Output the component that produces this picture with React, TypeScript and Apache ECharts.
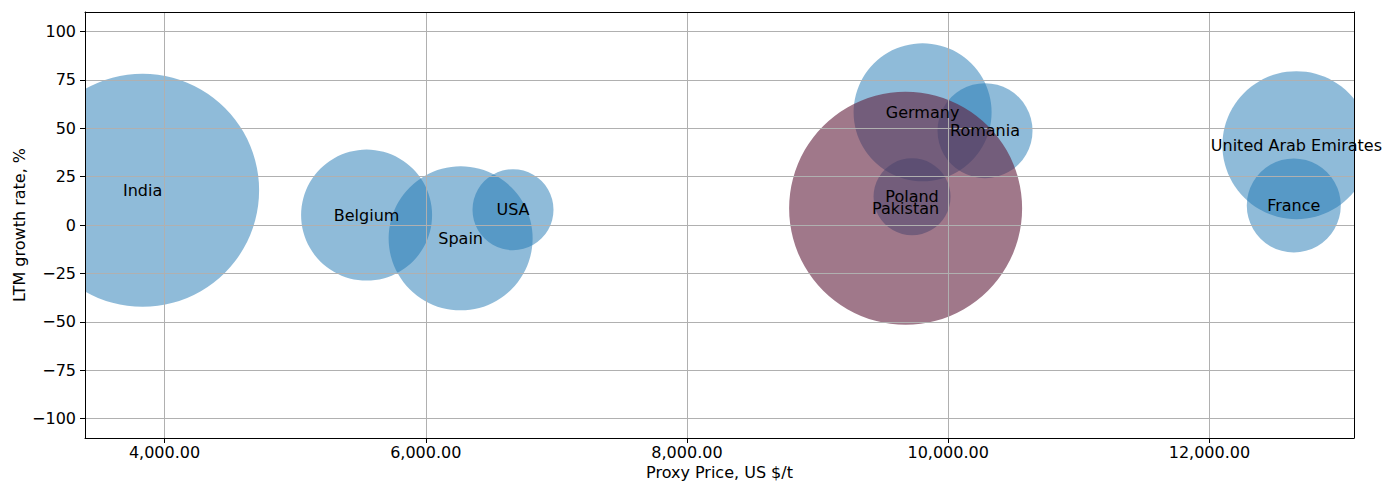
import React, { useEffect, useRef } from "react";
import * as echarts from "echarts";

const countries = ["India", "Belgium", "Spain", "USA", "Germany", "Romania", "Poland", "United Arab Emirates", "France", "Pakistan"];
const proxyPrice = [3832, 5547, 6267, 6668, 9804, 10282, 9723, 12666, 12646, 9674];
const growthRate = [17.9, 5.1, -6.9, 7.9, 58.2, 48.7, 14.6, 41.2, 10.1, 8.6];
const bubbleSize = [233, 131, 144, 81, 138, 95, 77, 148, 94, 233];
const highlighted = "Pakistan";

const xTicks = [4000, 6000, 8000, 10000, 12000];
const yTicks = [-100, -75, -50, -25, 0, 25, 50, 75, 100];

const FONT = "DejaVu Sans";

export default function App() {
  const ref = useRef<HTMLDivElement>(null);
  useEffect(() => {
    document.body.style.margin = "0";
    const chart = echarts.init(ref.current!, undefined, { renderer: "svg" });
    const rows = countries.map((c, i) => ({ name: c, value: [proxyPrice[i], growthRate[i], bubbleSize[i]] }));
    const blueRows = rows.filter((r) => r.name !== highlighted);
    const hiRows = rows.filter((r) => r.name === highlighted);
    const fmtX = (v: number) =>
      v.toLocaleString("en-US", { minimumFractionDigits: 2, maximumFractionDigits: 2 });
    const fmtY = (v: number) => (v < 0 ? "\u2212" + Math.abs(v) : String(v));
    const xMin = 3391;
    const xMax = 13107;
    const bubbles = (color: string) => (params: any, api: any) => {
      const c = api.coord([api.value(0), api.value(1)]);
      return {
        type: "circle",
        shape: { cx: c[0], cy: c[1], r: api.value(2) / 2 },
        style: { fill: color, stroke: "none" },
        silent: true,
      };
    };
    chart.setOption({
      animation: false,
      textStyle: { fontFamily: FONT },
      grid: { left: 85, right: 32, top: 12, bottom: 44, containLabel: false, outerBoundsMode: "none" },
      xAxis: [
        {
          type: "value",
          min: xMin,
          max: xMax,
          z: 3,
          name: "Proxy Price, US $/t",
          nameLocation: "middle",
          nameGap: 25,
          nameTextStyle: { fontFamily: FONT, fontSize: 16, color: "#000" },
          axisLine: { show: true, onZero: false, lineStyle: { color: "#000", width: 1 } },
          axisTick: { show: true, length: 5, inside: false, customValues: xTicks, lineStyle: { color: "#000" } },
          axisLabel: { customValues: xTicks, formatter: fmtX, margin: 6, fontFamily: FONT, fontSize: 16, color: "#000" },
          splitLine: { show: true, lineStyle: { color: "#b0b0b0", width: 1 } },
        },
        {
          type: "value",
          position: "top",
          min: xMin,
          max: xMax,
          z: 3,
          axisLine: { show: true, onZero: false, lineStyle: { color: "#000", width: 1 } },
          axisTick: { show: false },
          axisLabel: { show: false },
          splitLine: { show: false },
        },
      ],
      yAxis: [
        {
          type: "value",
          min: -110,
          max: 110,
          z: 3,
          name: "LTM growth rate, %",
          nameLocation: "middle",
          nameGap: 58,
          nameMoveOverlap: false,
          nameTextStyle: { fontFamily: FONT, fontSize: 16, color: "#000" },
          axisLine: { show: true, onZero: false, lineStyle: { color: "#000", width: 1 } },
          axisTick: { show: true, length: 5, inside: false, customValues: yTicks, lineStyle: { color: "#000" } },
          axisLabel: { customValues: yTicks, formatter: fmtY, margin: 9, fontFamily: FONT, fontSize: 16, color: "#000" },
          splitLine: { show: true, lineStyle: { color: "#b0b0b0", width: 1 } },
        },
        {
          type: "value",
          position: "right",
          min: -110,
          max: 110,
          z: 3,
          axisLine: { show: true, onZero: false, lineStyle: { color: "#000", width: 1 } },
          axisTick: { show: false },
          axisLabel: { show: false },
          splitLine: { show: false },
        },
      ],
      series: [
        {
          type: "custom",
          data: blueRows,
          encode: { x: 0, y: 1 },
          clip: true,
          z: 2,
          silent: true,
          renderItem: bubbles("rgba(31,119,180,0.5)"),
        },
        {
          type: "custom",
          data: hiRows,
          encode: { x: 0, y: 1 },
          clip: true,
          z: 2,
          silent: true,
          renderItem: bubbles("rgba(96,30,60,0.6)"),
        },
        {
          type: "scatter",
          data: rows,
          symbolSize: 0,
          clip: false,
          z: 4,
          silent: true,
          itemStyle: { color: "rgba(0,0,0,0)", opacity: 1 },
          label: {
            show: true,
            position: "inside",
            formatter: (p: any) => p.name,
            fontFamily: FONT,
            fontSize: 16,
            color: "#000",
          },
          emphasis: { disabled: true },
        },
      ],
    });
    return () => chart.dispose();
  }, []);
  return <div ref={ref} style={{ width: 1386, height: 482 }} />;
}
